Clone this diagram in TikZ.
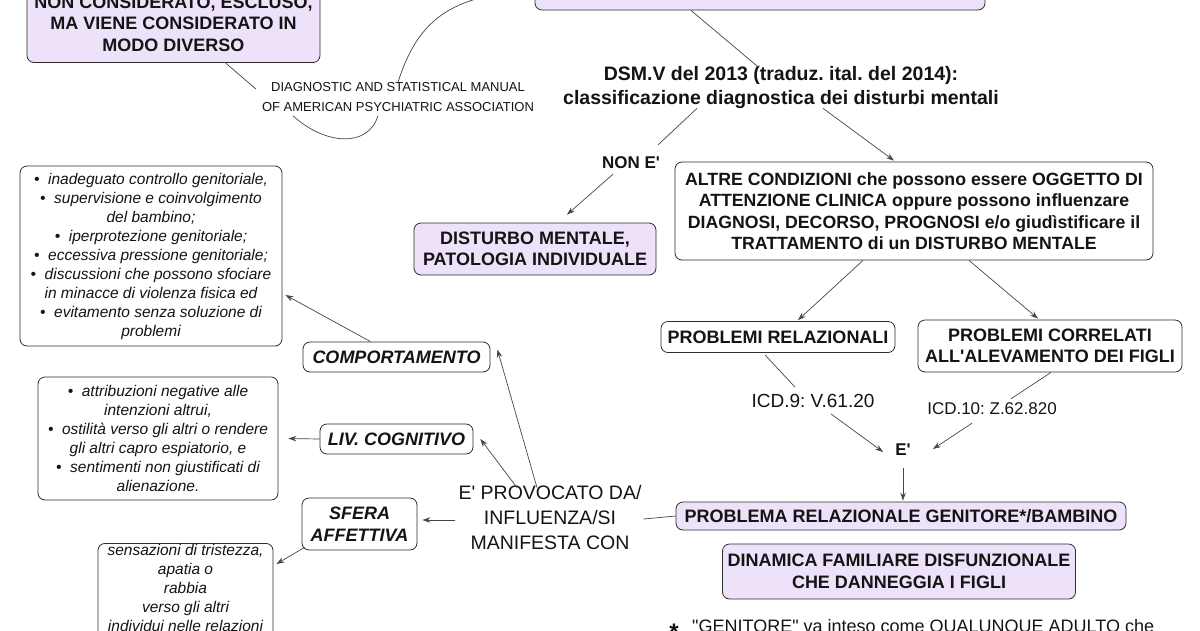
\documentclass[tikz,border=0pt]{standalone}
\usepackage{fontspec}
\setmainfont{Liberation Sans}
\usetikzlibrary{arrows.meta}
\definecolor{lilac}{RGB}{237,226,249}
\definecolor{edgec}{RGB}{45,45,45}
\definecolor{connc}{RGB}{70,70,70}
\definecolor{txt}{RGB}{20,20,20}
\newcommand\fsz[2]{\fontsize{#1}{#2}\selectfont}
\newcommand\aps{\textquotesingle}
\frenchspacing
\begin{document}
\begin{tikzpicture}[x=1pt,y=-1pt,
  box/.style={draw=edgec, line width=0.8pt, rounded corners=7pt, inner sep=0pt, align=center, text=txt},
  lil/.style={box, fill=lilac, font=\bfseries\fsz{18}{21.5}},
  wb/.style={box, fill=white, font=\bfseries\fsz{18}{21.5}},
  cat/.style={box, fill=white, font=\bfseries\itshape\fsz{18}{21.5}},
  lst/.style={box, fill=white, font=\itshape\fsz{15.5}{19}},
  lbl/.style={inner sep=0pt, align=center, text=txt},
  ln/.style={draw=connc, line width=0.7pt},
  ar/.style={ln, -{Stealth[length=8pt,width=5.5pt]}},
]
\useasboundingbox (0,0) rectangle (1200,630);
\clip (0,0) rectangle (1200,630);
\fill[white] (0,0) rectangle (1200,630);

% top boxes (cut by the frame)
\node[lil, minimum width=293pt, minimum height=78pt] (tl) at (173.5,23.5)
  {NON CONSIDERATO, ESCLUSO,\\MA VIENE CONSIDERATO IN\\MODO DIVERSO};
\node[lil, minimum width=450pt, minimum height=40pt] (top) at (760,-10) {};

% labels
\node[lbl, font=\fsz{13}{20}] (dsml) at (398,97)
  {DIAGNOSTIC AND STATISTICAL MANUAL\\OF AMERICAN PSYCHIATRIC ASSOCIATION};
\node[lbl, font=\bfseries\fsz{19.5}{24}] (dsmv) at (781,87)
  {DSM.V del 2013 (traduz. ital. del 2014):\\classificazione diagnostica dei disturbi mentali};
\node[lbl, font=\bfseries\fsz{17}{20}] (nonE) at (631,163) {NON E\aps};

% main boxes
\node[lil, minimum width=242pt, minimum height=52pt] (dist) at (535,249)
  {DISTURBO MENTALE,\\PATOLOGIA INDIVIDUALE};
\node[wb, minimum width=478pt, minimum height=98pt, font=\bfseries\fsz{17.7}{21.5}] (altre) at (914,211)
  {ALTRE CONDIZIONI che possono essere OGGETTO DI\\ATTENZIONE CLINICA oppure possono influenzare\\DIAGNOSI, DECORSO, PROGNOSI e/o giudìstificare il\\TRATTAMENTO di un DISTURBO MENTALE};
\node[wb, minimum width=234pt, minimum height=31pt] (prel) at (778,337) {PROBLEMI RELAZIONALI};
\node[wb, minimum width=264pt, minimum height=52pt] (pcorr) at (1050,346)
  {PROBLEMI CORRELATI\\ALL\aps ALEVAMENTO DEI FIGLI};

\node[lbl, font=\fsz{19}{22}] (icd9) at (813,401) {ICD.9: V.61.20};
\node[lbl, font=\fsz{17}{20}] (icd10) at (992,409) {ICD.10: Z.62.820};
\node[lbl, font=\bfseries\fsz{17}{20}] (E) at (903,450) {E\aps};

\node[lil, minimum width=450pt, minimum height=28pt] (prg) at (901,516)
  {PROBLEMA RELAZIONALE GENITORE*/BAMBINO};
\node[lil, minimum width=353pt, minimum height=55pt] (dina) at (899,571.5)
  {DINAMICA FAMILIARE DISFUNZIONALE\\CHE DANNEGGIA I FIGLI};

\node[lbl, font=\bfseries\fsz{24}{24}] (ast) at (674,632) {*};
\node[lbl, font=\fsz{18}{22}, anchor=west] (foot) at (692,628)
  {\textquotedbl GENITORE\textquotedbl\ va inteso come QUALUNQUE ADULTO che};

% left side
\node[lbl, font=\fsz{19.5}{25}] (prov) at (550,518)
  {E\aps\ PROVOCATO DA/\\INFLUENZA/SI\\MANIFESTA CON};
\node[cat, minimum width=187pt, minimum height=30pt] (comp) at (396.5,357) {COMPORTAMENTO};
\node[cat, minimum width=153pt, minimum height=30pt] (liv) at (396.5,439) {LIV. COGNITIVO};
\node[cat, minimum width=115pt, minimum height=52pt] (sfera) at (359.5,524) {SFERA\\AFFETTIVA};

\node[lst, minimum width=262pt, minimum height=180pt] (l1) at (151,256)
  {\textbullet\ \ inadeguato controllo genitoriale,\\
   \textbullet\ \ supervisione e coinvolgimento\\
   del bambino;\\
   \textbullet\ \ iperprotezione genitoriale;\\
   \textbullet\ \ eccessiva pressione genitoriale;\\
   \textbullet\ \ discussioni che possono sfociare\\
   in minacce di violenza fisica ed\\
   \textbullet\ \ evitamento senza soluzione di\\
   problemi};
\node[lst, minimum width=240pt, minimum height=123pt] (l2) at (158,438.5)
  {\textbullet\ \ attribuzioni negative alle\\
   intenzioni altrui,\\
   \textbullet\ \ ostilità verso gli altri o rendere\\
   gli altri capro espiatorio, e\\
   \textbullet\ \ sentimenti non giustificati di\\
   alienazione.};
\node[lst, minimum width=175pt, minimum height=160pt, anchor=north] (l3) at (185.5,543) {};
\node[lbl, font=\itshape\fsz{15.5}{19}, anchor=north] (l3t) at (185.5,544.5)
  {sensazioni di tristezza,\\apatia o\\rabbia\\verso gli altri\\individui nelle relazioni};

% connectors
\draw[ln] ([xshift=52pt]tl.south) -- ([xshift=-6pt,yshift=8pt]dsml.west);
\draw[ln] (dsml.north) .. controls (418,20) and (450,-5) .. (top.west);
\draw[ln] ([xshift=-20pt,yshift=-4pt]dsml.south) .. controls (368,148) and (325,145) .. ([xshift=-105pt,yshift=-4pt]dsml.south);
\draw[ln] ([xshift=-69pt]top.south) -- ([xshift=-22pt,yshift=-2pt]dsmv.north);
\draw[ln] ([xshift=-84pt]dsmv.south) -- ([xshift=-2pt,yshift=12pt]nonE.north east);
\draw[ar] ([xshift=-18pt,yshift=-5pt]nonE.south) -- ([xshift=32pt,yshift=8pt]dist.north);
\draw[ar] ([xshift=42pt]dsmv.south) -- ([xshift=-20pt,yshift=1pt]altre.north);
\draw[ar] ([xshift=-51pt]altre.south) -- ([xshift=20pt,yshift=1pt]prel.north);
\draw[ar] ([xshift=55pt]altre.south) -- ([xshift=-12pt,yshift=1pt]pcorr.north);
\draw[ln] ([xshift=-13pt,yshift=-2pt]prel.south) -- ([xshift=-18pt,yshift=7pt]icd9.north);
\draw[ln] ([xshift=1pt]pcorr.south) -- ([xshift=19pt,yshift=4pt]icd10.north);
\draw[ar] ([xshift=18pt,yshift=-6pt]icd9.south) -- ([xshift=-12pt,yshift=-2pt]E.west);
\draw[ar] ([xshift=-20pt,yshift=-8pt]icd10.south) -- ([xshift=22pt,yshift=1pt]E.east);
\draw[ar] ([yshift=-12pt]E.south) -- ([xshift=2pt,yshift=1pt]prg.north);
\draw[ln] (prg.west) -- ([xshift=2pt,yshift=-1pt]prov.east);
\draw[ar] ([xshift=-13pt,yshift=-2pt]prov.north) -- ([xshift=7pt,yshift=-8pt]comp.north east);
\draw[ar] ([xshift=-33pt,yshift=-2pt]prov.north) -- ([xshift=7pt]liv.east);
\draw[ar] ([xshift=-3pt,yshift=-2pt]prov.west) -- ([xshift=5pt,yshift=4pt]sfera.east);
\draw[ar] (liv.west) -- ([xshift=10pt]l2.east);
\draw[ar] ([xshift=-26pt]comp.north) -- ([xshift=3pt,yshift=-39pt]l1.east);
\draw[ar] ([xshift=3pt,yshift=3pt]sfera.south west) -- ([xshift=3pt,yshift=-21pt]l3.north east);
\end{tikzpicture}
\end{document}
